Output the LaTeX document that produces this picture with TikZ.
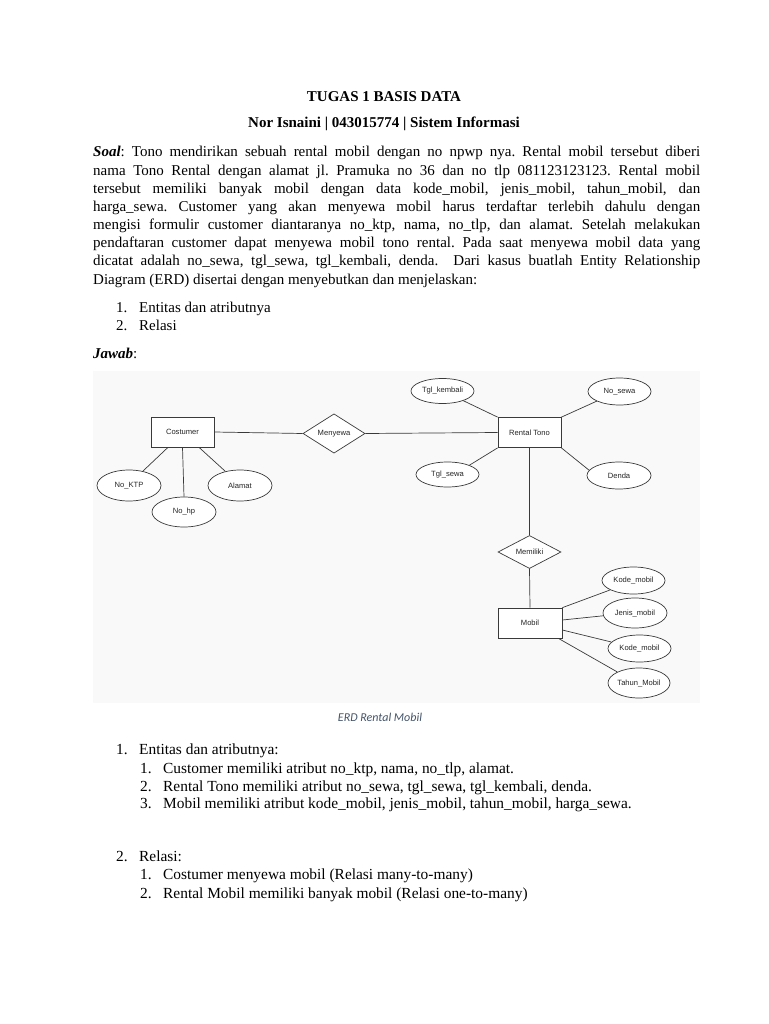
\documentclass[tikz,border=0pt]{standalone}
\usepackage{fontspec}
\setmainfont{Liberation Serif}
\newfontfamily\diagfont{Liberation Sans}
\newfontfamily\capfont{Carlito}
\usetikzlibrary{shapes.geometric}
\definecolor{bgray}{HTML}{F9F9F9}
\definecolor{capblue}{HTML}{44546A}
\definecolor{edgec}{HTML}{3A3A3A}
\frenchspacing
\begin{document}
\begin{tikzpicture}[x=1pt,y=-1pt,
  body/.style={anchor=base west, inner sep=0pt, font=\frenchspacing\fontsize{15}{18}\selectfont},
  lbody/.style={anchor=base west, inner sep=0pt, font=\frenchspacing\fontsize{15.4}{18}\selectfont},
  entity/.style={draw=edgec, fill=white, rectangle, minimum width=63pt, minimum height=30pt, inner sep=0pt, line width=0.7pt, font=\diagfont\fontsize{7.6}{9}\selectfont, text=black!85},
  rel/.style={draw=edgec, fill=white, diamond, minimum width=62pt, minimum height=29pt, inner sep=0pt, line width=0.7pt, font=\diagfont\fontsize{7.6}{9}\selectfont, text=black!85},
  attr/.style={draw=edgec, fill=white, ellipse, minimum width=63pt, minimum height=27pt, inner sep=0pt, line width=0.7pt, font=\diagfont\fontsize{7.6}{9}\selectfont, text=black!85},
  conn/.style={draw=edgec, line width=0.7pt}
]
\fill[white] (0,0) rectangle (768,1024);
\useasboundingbox (0,0) rectangle (768,1024);

% header
\node[anchor=base, inner sep=0pt, font=\bfseries\fontsize{15}{18}\selectfont] (title) at (384,102) {TUGAS 1 BASIS DATA};
\node[anchor=base, inner sep=0pt, font=\bfseries\fontsize{15}{18}\selectfont] (author) at (384,128) {Nor Isnaini | 043015774 | Sistem Informasi};

% paragraph
\node[body] (p1) at (93,157.0) {\makebox[607pt][s]{\textbf{\textit{Soal}}: Tono mendirikan sebuah rental mobil dengan no npwp nya. Rental mobil tersebut diberi}};
\node[body] (p2) at (93,175.1) {\makebox[607pt][s]{nama Tono Rental dengan alamat jl. Pramuka no 36 dan no tlp 081123123123. Rental mobil}};
\node[body] (p3) at (93,193.3) {\makebox[607pt][s]{tersebut memiliki banyak mobil dengan data kode\_mobil, jenis\_mobil, tahun\_mobil, dan}};
\node[body] (p4) at (93,211.4) {\makebox[607pt][s]{harga\_sewa. Customer yang akan menyewa mobil harus terdaftar terlebih dahulu dengan}};
\node[body] (p5) at (93,229.6) {\makebox[607pt][s]{mengisi formulir customer diantaranya no\_ktp, nama, no\_tlp, dan alamat. Setelah melakukan}};
\node[body] (p6) at (93,247.7) {\makebox[607pt][s]{pendaftaran customer dapat menyewa mobil tono rental. Pada saat menyewa mobil data yang}};
\node[body] (p7) at (93,265.9) {\makebox[607pt][s]{dicatat adalah no\_sewa, tgl\_sewa, tgl\_kembali, denda.\ \ Dari kasus buatlah Entity Relationship}};
\node[body] (p8) at (93,284.0) {Diagram (ERD) disertai dengan menyebutkan dan menjelaskan:};

\node[body] (n1) at (116,312) {1.};
\node[body] (l1) at (139,312) {Entitas dan atributnya};
\node[body] (n2) at (116,330) {2.};
\node[body] (l2) at (139,330) {Relasi};
\node[body] (jawab) at (93,358) {\textbf{\textit{Jawab}}:};

% diagram background
\fill[bgray] (93,371) rectangle (700,703);

% entities and relations
\node[entity] (cust) at (182.5,432) {Costumer};
\node[rel] (menyewa) at (334,433.5) {Menyewa};
\node[entity] (rental) at (529.5,432.5) {Rental Tono};
\node[rel, minimum width=63pt, minimum height=30pt] (memiliki) at (529.5,552) {Memiliki};
\node[entity, minimum width=64pt] (mobil) at (530,623) {Mobil};

% attributes
\node[attr, minimum width=64pt, minimum height=31pt] (noktp) at (129,485.5) {No\_KTP};
\node[attr, minimum width=64pt, minimum height=30pt] (nohp) at (184,512) {No\_hp};
\node[attr, minimum width=64pt, minimum height=31pt] (alamat) at (240,485.5) {Alamat};
\node[attr, minimum height=25pt] (tglk) at (442.5,391) {Tgl\_kembali};
\node[attr] (nosewa) at (619.5,391.5) {No\_sewa};
\node[attr, minimum height=25pt] (tgls) at (447.5,474.5) {Tgl\_sewa};
\node[attr, minimum width=64pt] (denda) at (619,475.5) {Denda};
\node[attr] (kode1) at (633.5,580.5) {Kode\_mobil};
\node[attr, minimum width=64pt, minimum height=30pt] (jenis) at (635,613) {Jenis\_mobil};
\node[attr] (kode2) at (639.5,648.5) {Kode\_mobil};
\node[attr, minimum width=62pt, minimum height=30pt] (tahun) at (639,683) {Tahun\_Mobil};

% connectors
\draw[conn] (cust.east) -- (menyewa.west);
\draw[conn] (menyewa.east) -- (rental.west);
\draw[conn] ([xshift=-14.5pt]cust.south) -- (noktp.46);
\draw[conn] (cust.south) -- (nohp.north);
\draw[conn] ([xshift=16.5pt]cust.south) -- (alamat.136);
\draw[conn] (rental.north west) -- (tglk.-25);
\draw[conn] (rental.north east) -- (nosewa.-157);
\draw[conn] (rental.south west) -- (tgls.23);
\draw[conn] (rental.south east) -- (denda.170);
\draw[conn] (rental.south) -- (memiliki.north);
\draw[conn] (memiliki.south) -- (mobil.north);
\draw[conn] (mobil.north east) -- (kode1.-158);
\draw[conn] ([yshift=3pt]mobil.east) -- (jenis.185);
\draw[conn] ([yshift=-7pt]mobil.east) -- (kode2.167);
\draw[conn] ([xshift=-4pt]mobil.south east) -- (tahun.153);

% caption
\node[inner sep=0pt, font=\capfont\itshape\fontsize{12}{14}\selectfont, text=capblue] (caption) at (380,717) {ERD Rental Mobil};

% answers
\node[lbody] (a1) at (116,754) {1.};
\node[lbody] (a1t) at (139,754) {Entitas dan atributnya:};
\node[lbody] (a11) at (140,773) {1.};
\node[lbody] (a11t) at (163,773) {Customer memiliki atribut no\_ktp, nama, no\_tlp, alamat.};
\node[lbody] (a12) at (140,791) {2.};
\node[lbody] (a12t) at (163,791) {Rental Tono memiliki atribut no\_sewa, tgl\_sewa, tgl\_kembali, denda.};
\node[lbody] (a13) at (140,808) {3.};
\node[lbody] (a13t) at (163,808) {Mobil memiliki atribut kode\_mobil, jenis\_mobil, tahun\_mobil, harga\_sewa.};
\node[lbody] (a2) at (116,861) {2.};
\node[lbody] (a2t) at (139,861) {Relasi:};
\node[lbody] (a21) at (140,879) {1.};
\node[lbody] (a21t) at (163,879) {Costumer menyewa mobil (Relasi many-to-many)};
\node[lbody] (a22) at (140,898) {2.};
\node[lbody] (a22t) at (163,898) {Rental Mobil memiliki banyak mobil (Relasi one-to-many)};
\end{tikzpicture}
\end{document}
